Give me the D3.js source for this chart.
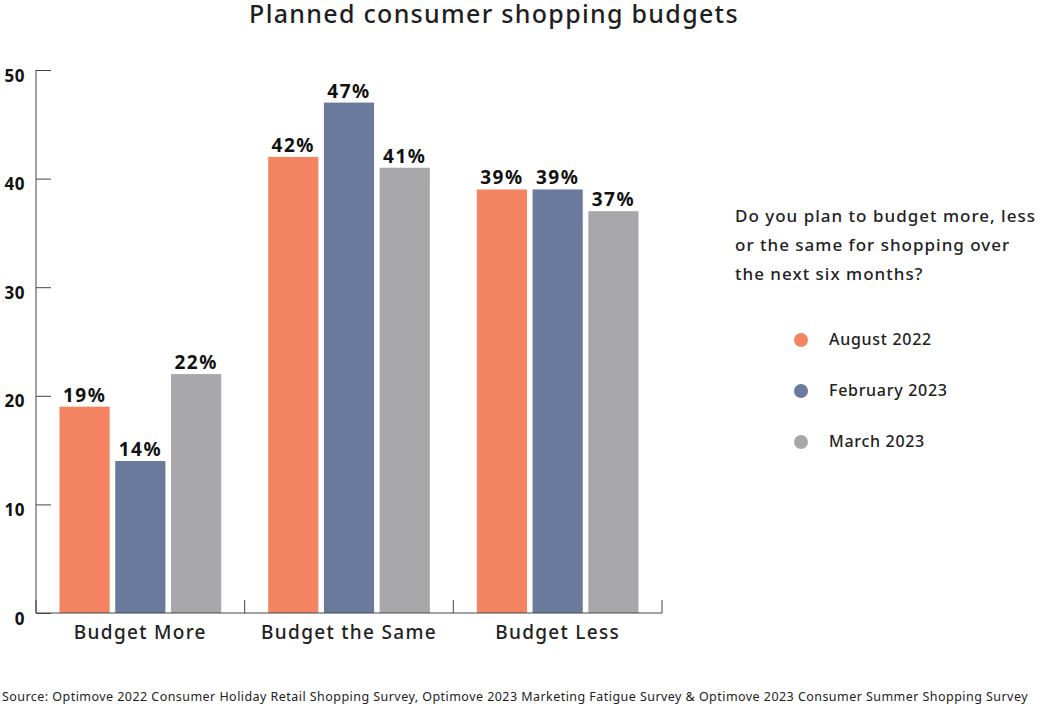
<!DOCTYPE html>
<html>
<head>
<meta charset="utf-8">
<script src="https://cdn.jsdelivr.net/npm/d3@7"></script>
<style>
  body { margin: 0; background: #fff; }
  svg { display: block; font-family: "Noto Sans", "Open Sans", sans-serif; }
</style>
</head>
<body>
<svg id="chart" width="1045" height="706"></svg>
<script>
// data
const categories = ["Budget More", "Budget the Same", "Budget Less"];
const seriesNames = ["August 2022", "February 2023", "March 2023"];
const august2022 = [19, 42, 39];
const february2023 = [14, 47, 39];
const march2023 = [22, 41, 37];
const yTicks = [0, 10, 20, 30, 40, 50];
const colors = ["#f58562", "#6a7a9c", "#a8a8aa"];

const seriesValues = [august2022, february2023, march2023];
const rows = categories.map((c, i) => ({
  category: c,
  values: seriesNames.map((s, j) => ({ key: s, value: seriesValues[j][i], color: colors[j] }))
}));

// dimensions
const margin = { top: 70, left: 36, bottom: 93, right: 383 };
const width = 1045, height = 706;
const innerWidth = width - margin.left - margin.right;
const innerHeight = height - margin.top - margin.bottom;

const svg = d3.select("#chart");
const g = svg.append("g").attr("transform", `translate(${margin.left},${margin.top})`);

// scales
const x0 = d3.scaleBand().domain(categories).range([0, innerWidth]).padding(0);
const x1 = d3.scaleBand().domain(seriesNames).range([23.5, x0.bandwidth() - 23.5]).paddingInner(0.1).paddingOuter(0);
const y = d3.scaleLinear().domain([0, 50]).range([innerHeight, 0]);

// title
svg.append("text")
  .attr("x", 494).attr("y", 23)
  .attr("text-anchor", "middle")
  .style("font-size", "25px").style("font-weight", 500).style("fill", "#1f1f1f")
  .style("letter-spacing", "1.3px")
  .text("Planned consumer shopping budgets");

// bars
const groups = g.selectAll(".grp").data(rows).join("g")
  .attr("class", "grp")
  .attr("transform", d => `translate(${x0(d.category)},0)`);

groups.selectAll("rect").data(d => d.values).join("rect")
  .attr("x", d => x1(d.key))
  .attr("y", d => y(d.value))
  .attr("width", x1.bandwidth())
  .attr("height", d => innerHeight - y(d.value))
  .attr("fill", d => d.color);

groups.selectAll("text.val").data(d => d.values).join("text")
  .attr("class", "val")
  .attr("x", d => x1(d.key) + x1.bandwidth() / 2)
  .attr("y", d => y(d.value) - 5)
  .attr("text-anchor", "middle")
  .style("font-size", "19px").style("font-weight", 700).style("fill", "#111")
  .style("letter-spacing", "1.5px")
  .text(d => d.value + "%");

// y axis
const yAxis = g.append("g")
  .call(d3.axisLeft(y).tickValues(yTicks).tickSize(-15).tickPadding(11));
yAxis.select(".domain").attr("stroke", "#444").attr("d", `M0,${innerHeight}V0`);
yAxis.selectAll(".tick line").attr("stroke", "#444");
yAxis.selectAll(".tick text")
  .attr("dy", "0.65em")
  .style("font-size", "17px").style("font-weight", 700).style("fill", "#111")
  .style("letter-spacing", "0.5px")
  .style("font-family", "'Noto Sans', sans-serif");

// x axis
const boundaries = [0, ...categories.map(c => x0(c) + x0.bandwidth())];
const xAxis = g.append("g").attr("transform", `translate(0,${innerHeight})`);
xAxis.append("path").attr("d", `M0,0H${innerWidth}`).attr("stroke", "#444").attr("fill", "none");
xAxis.selectAll("line").data(boundaries).join("line")
  .attr("x1", d => d).attr("x2", d => d)
  .attr("y1", 0).attr("y2", -13)
  .attr("stroke", "#444");
xAxis.selectAll("text").data(categories).join("text")
  .attr("x", d => x0(d) + x0.bandwidth() / 2)
  .attr("y", 26)
  .attr("text-anchor", "middle")
  .style("font-size", "19px").style("font-weight", 500).style("fill", "#222")
  .style("letter-spacing", "1.3px")
  .text(d => d);

// legend
const question = ["Do you plan to budget more, less", "or the same for shopping over", "the next six months?"];
svg.append("g").selectAll("text").data(question).join("text")
  .attr("x", 735).attr("y", (d, i) => 222 + i * 29)
  .style("font-size", "17px").style("font-weight", 500).style("fill", "#222")
  .style("letter-spacing", "1px")
  .text(d => d);

const legend = svg.append("g").attr("transform", "translate(801,340)");
const items = legend.selectAll("g").data(seriesNames).join("g")
  .attr("transform", (d, i) => `translate(0,${i * 51})`);
items.append("circle").attr("r", 7).attr("fill", (d, i) => colors[i]);
items.append("text")
  .attr("x", 28).attr("y", 5)
  .style("font-size", "16px").style("font-weight", 500).style("fill", "#222")
  .style("letter-spacing", "0.7px")
  .text(d => d);

// source
svg.append("text")
  .attr("x", 2).attr("y", 701)
  .style("font-size", "12.5px").style("fill", "#222")
  .style("letter-spacing", "0.45px")
  .text("Source: Optimove 2022 Consumer Holiday Retail Shopping Survey, Optimove 2023 Marketing Fatigue Survey & Optimove 2023 Consumer Summer Shopping Survey");
</script>
</body>
</html>
